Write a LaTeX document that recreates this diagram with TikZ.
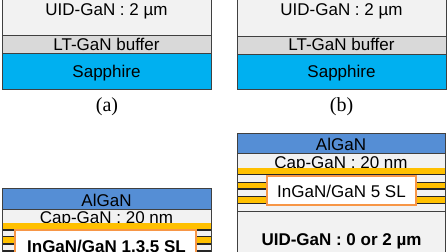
\documentclass[tikz,border=0pt]{standalone}
\usepackage{fontspec}
\setmainfont{Liberation Sans}
\newfontfamily\capfont{Liberation Serif}
\definecolor{uidgray}{HTML}{F2F2F2}
\definecolor{ltgray}{HTML}{D9D9D9}
\definecolor{sapphire}{HTML}{00B0F0}
\definecolor{algan}{HTML}{558ED5}
\definecolor{qwyellow}{HTML}{FFC000}
\definecolor{slorange}{HTML}{F79646}
\definecolor{edgegray}{HTML}{404040}
\begin{document}
\begin{tikzpicture}[x=1pt, y=-1pt,
    layer/.style={draw=edgegray, line width=1pt},
    lbl/.style={anchor=base, inner sep=0pt, font=\fontsize{17}{20}\selectfont},
    sub/.style={anchor=base, inner sep=0pt, font=\capfont\fontsize{20}{24}\selectfont},
    darkline/.style={draw=black!85, line width=1.3pt},
    slbox/.style={draw=slorange, line width=1.6pt, fill=white}]
    \useasboundingbox (0,0) rectangle (448,252);
    \clip (0,0) rectangle (448,252);

    % (a) template
    \draw[layer, fill=uidgray] (2,-5) rectangle (211,35);
    \draw[layer, fill=ltgray] (2,35) rectangle (211,53);
    \draw[layer, fill=sapphire] (2,53) rectangle (211,89);
    \node[lbl] (uidA) at (106.5,15) {UID-GaN : 2 µm};
    \node[lbl] (ltA) at (106.5,50) {LT-GaN buffer};
    \node[lbl] (sapA) at (106.5,77) {Sapphire};
    \node[sub] (labA) at (107,111.5) {(a)};

    % (b) template
    \draw[layer, fill=uidgray] (237,-5) rectangle (446,36);
    \draw[layer, fill=ltgray] (237,36) rectangle (446,54);
    \draw[layer, fill=sapphire] (237,54) rectangle (446,89);
    \node[lbl] (uidB) at (341.5,15) {UID-GaN : 2 µm};
    \node[lbl] (ltB) at (341.5,50.5) {LT-GaN buffer};
    \node[lbl] (sapB) at (341.5,77) {Sapphire};
    \node[sub] (labB) at (341.5,111.5) {(b)};

    % (c) stack with 1, 3, 5 SL
    \fill[uidgray] (2,209) rectangle (211,260);
    \draw[layer, fill=algan] (2,188) rectangle (211,209);
    \node[lbl] (alganC) at (106.5,206) {AlGaN};
    \node[lbl] (capC) at (106.5,223) {Cap-GaN : 20 nm};
    \draw[layer] (2,223) -- (211,223);
    \foreach \t in {223,237} {
        \fill[qwyellow] (2,\t) rectangle (211,\t+7);
        \draw[darkline] (2,\t+7) -- (211,\t+7);
        \draw[darkline] (2,\t+14) -- (211,\t+14);
    }
    \draw[layer] (2,188) -- (2,260) (211,188) -- (211,260);
    \draw[slbox] (15,230) rectangle (196,262);
    \node[lbl, font=\fontsize{17}{20}\selectfont\bfseries] (slC) at (106.5,252.5) {InGaN/GaN 1.3.5 SL};

    % (d) stack with 5 SL
    \fill[uidgray] (237,153) rectangle (445,211);
    \draw[layer, fill=algan] (237,133) rectangle (445,153);
    \node[lbl] (alganD) at (341,150) {AlGaN};
    \node[lbl] (capD) at (341,168) {Cap-GaN : 20 nm};
    \draw[layer] (237,168) -- (445,168);
    \foreach \t in {168,182.3,196.6} {
        \fill[qwyellow] (237,\t) rectangle (445,\t+6.8);
        \draw[darkline] (237,\t+6.8) -- (445,\t+6.8);
    }
    \draw[darkline] (237,182.3) -- (445,182.3);
    \draw[darkline] (237,196.6) -- (445,196.6);
    \draw[layer, fill=uidgray] (237,211) rectangle (445,262);
    \draw[layer] (237,133) -- (237,211) (445,133) -- (445,211);
    \draw[slbox] (267,176) rectangle (416,205);
    \node[lbl] (slD) at (341.5,197) {InGaN/GaN 5 SL};
    \node[lbl, font=\fontsize{17}{20}\selectfont\bfseries] (uidD) at (341.5,245) {UID-GaN : 0 or 2 µm};
\end{tikzpicture}
\end{document}
